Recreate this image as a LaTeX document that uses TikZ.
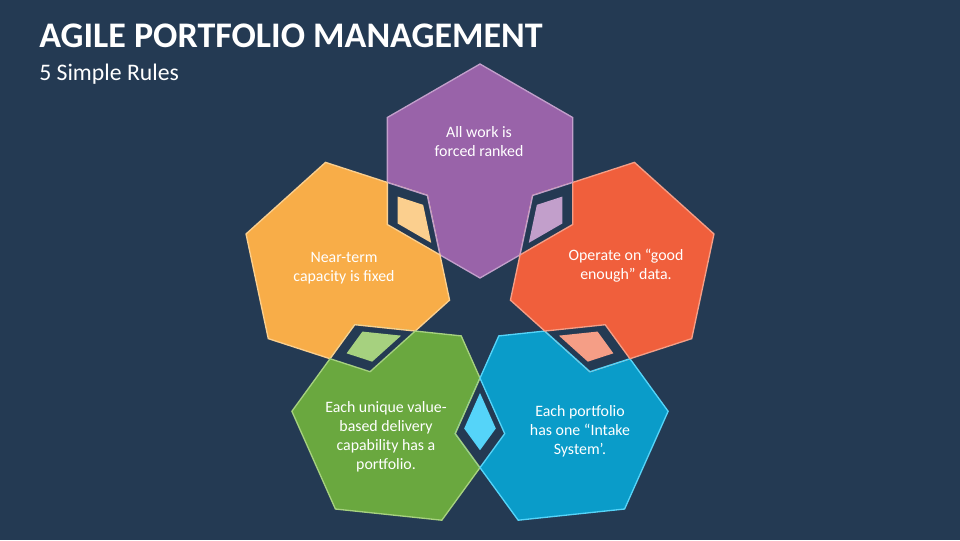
\documentclass[tikz,border=0pt]{standalone}
\usepackage{fontspec}
\setmainfont{Carlito}
\usetikzlibrary{calc}
\definecolor{bg}{HTML}{243A53}
\definecolor{cP}{HTML}{9963A9}\definecolor{lP}{HTML}{C29FCB}
\definecolor{cO}{HTML}{F8AD48}\definecolor{lO}{HTML}{FBCF8E}
\definecolor{cG}{HTML}{6AA83F}\definecolor{lG}{HTML}{A6D17F}
\definecolor{cB}{HTML}{0A9CC9}\definecolor{lB}{HTML}{55D4F9}
\definecolor{cR}{HTML}{F05F3C}\definecolor{lR}{HTML}{F59E86}
\tikzset{
  hexline/.style={line width=1pt, line join=miter},
  rule/.style={text=white, align=center, font=\fontsize{11.9}{14.3}\selectfont, inner sep=0pt},
}
\begin{document}
\begin{tikzpicture}[x=0.75pt,y=0.75pt]
\path[use as bounding box, fill=bg] (0,0) rectangle (960,540);
% title
\node[anchor=base west, text=white, inner sep=0pt, font=\fontsize{27}{32}\selectfont\bfseries] (title) at (39,492) {AGILE PORTFOLIO MANAGEMENT};
\node[anchor=base west, text=white, inner sep=0pt, font=\fontsize{17.8}{21}\selectfont] (subtitle) at (39,459) {5 Simple Rules};
% hexagons
\foreach \k/\fc/\lc in {0/cP/lP,1/cO/lO,2/cG/lG,3/cB/lB,4/cR/lR}{
  \begin{scope}[shift={(480,230)},rotate=\k*72,shift={(0,139)}]
    \filldraw[fill=\fc, draw=\lc, hexline] (30:107) -- (90:107) -- (150:107) -- (210:107) -- (270:107) -- (330:107) -- cycle;
  \end{scope}
}
% overlaps
\foreach \k/\la/\lb in {0/lP/lO,1/lO/lG,2/lG/lB,3/lB/lR,4/lR/lP}{
  \begin{scope}[shift={(480,230)},rotate=\k*72]
    \coordinate (ovD) at (-92.66,127.54);
    \coordinate (ovB) at (-52.68,114.55);
    \coordinate (ovE) at (-40.05,55.12);
    \coordinate (ovA) at (-92.66,85.5);
    \coordinate (ovC) at ($(ovD)!0.54!(ovE)$);
    \fill[bg] (ovD) -- (ovB) -- (ovE) -- (ovA) -- cycle;
    \draw[\la, hexline] (ovD) -- (ovB) -- (ovE);
    \draw[\lb, hexline] (ovD) -- (ovA) -- (ovE);
    \fill[\lb] ($(ovC)!0.64!(ovD)$) -- ($(ovC)!0.64!(ovB)$) -- ($(ovC)!0.64!(ovE)$) -- ($(ovC)!0.64!(ovA)$) -- cycle;
  \end{scope}
}
% texts
\node[rule] (tP) at (479,398) {All work is\\forced ranked};
\node[rule] (tO) at (344,271.5) {Near-term\\capacity is fixed};
\node[rule] (tR) at (626,274.5) {Operate on “good\\enough” data.};
\node[rule] (tG) at (386,103.5) {Each unique value-\\based delivery\\capability has a\\portfolio.};
\node[rule] (tB) at (580,108.3) {Each portfolio\\has one “Intake\\System’.};
\end{tikzpicture}
\end{document}
